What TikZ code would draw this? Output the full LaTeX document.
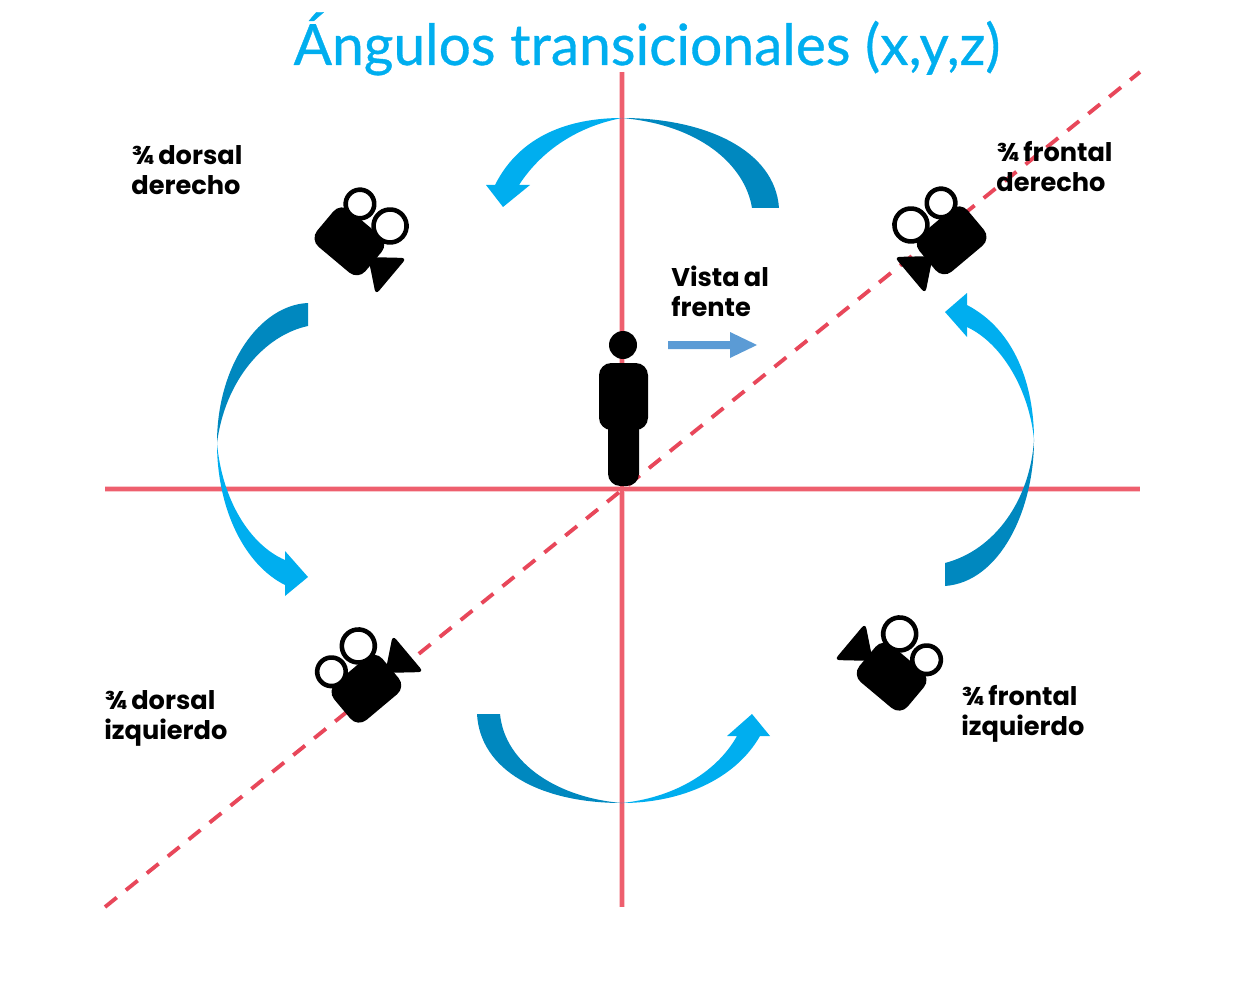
\documentclass[tikz,border=0pt]{standalone}
\usepackage{fontspec}
\setmainfont[WordSpace=0.75]{Poppins}
\newfontfamily\titlefont[FakeBold=0.6]{Lato}
\usetikzlibrary{calc,positioning}
\definecolor{axisred}{HTML}{EE5F6E}
\definecolor{dashred}{HTML}{E8475A}
\definecolor{arcdark}{HTML}{0088BF}
\definecolor{arclight}{HTML}{00AEEF}
\definecolor{viewblue}{HTML}{5B9BD5}
\tikzset{
  axisline/.style={draw=axisred,line width=2pt},
  axisglow/.style={draw=axisred!35,line width=3pt},
  camlabel/.style={anchor=north west,align=left,font=\fontsize{14.6}{17}\selectfont\bfseries,inner sep=0pt},
  pics/camera/.style={code={
    \fill[rounded corners=6.5] (-31,-24) rectangle (32,24);
    \fill[rounded corners=3,line join=round] (25,0) -- (55,-24) -- (55,24) -- cycle;
    \draw[line width=2.6pt,fill=white] (-15.4,-35.4) circle (14.3);
    \draw[line width=2.6pt,fill=white] (21.8,-37.9) circle (16.5);
  }}
}
\begin{document}
\begin{tikzpicture}[x=0.02cm,y=-0.02cm]
\useasboundingbox (0,0) rectangle (1260,983);
% axes
\coordinate (L) at (105,489);
\coordinate (R) at (1140,489);
\coordinate (T) at (622,72);
\coordinate (B) at (622,907);
\coordinate (P) at (105,907);
\coordinate (Q) at (1140,72);
\draw[axisglow] (L) -- (R);
\draw[axisglow] (T) -- (B);
\draw[axisline] (L) -- (R);
\draw[axisline] (T) -- (B);
\draw[dashred,line width=2.2pt,dash pattern=on 8.6pt off 6.7pt] (P) -- (Q);
% top arc
\fill[arcdark] (622,118) .. controls (705,118) and (775,150) .. (779,208) -- (752,208) .. controls (745,165) and (700,125) .. cycle;
\fill[arclight] (622,118) .. controls (570,118) and (520,135) .. (495,185) -- (486,185) -- (503,207) -- (530,185) -- (519,185) .. controls (545,145) and (585,125) .. cycle;
% left arc
\fill[arcdark] (217,443) .. controls (217,365) and (260,305) .. (308,303) -- (308,326) .. controls (265,335) and (225,380) .. cycle;
\fill[arclight] (217,443) .. controls (217,510) and (245,565) .. (285,585) -- (285,596) -- (308,577) -- (285,551) -- (285,560) .. controls (250,545) and (222,500) .. cycle;
% right arc
\fill[arcdark] (1034,440) .. controls (1034,510) and (1000,582) .. (945,586) -- (945,563) .. controls (995,550) and (1030,500) .. cycle;
\fill[arclight] (1034,440) .. controls (1034,385) and (1015,330) .. (967,305) -- (967,293) -- (945,312) -- (967,337) -- (967,327) .. controls (1005,345) and (1030,395) .. cycle;
% bottom arc
\fill[arcdark] (622,803) .. controls (540,803) and (480,770) .. (477,714) -- (500,714) .. controls (505,765) and (560,798) .. cycle;
\fill[arclight] (622,803) .. controls (680,803) and (735,780) .. (760,736) -- (770,736) -- (752,714) -- (727,736) -- (737,736) .. controls (715,775) and (670,798) .. cycle;
% cameras
\pic[rotate=-40] at (349,241) {camera};
\pic[rotate=40,xscale=-1] at (952,240) {camera};
\pic[rotate=40] at (366,689) {camera};
\pic[rotate=-40,xscale=-1] at (892,677) {camera};
% person
\fill (623,345) circle (14);
\fill[rounded corners=7] (599,363) rectangle (648,430);
\fill[rounded corners=7] (608,400) rectangle (639,486);
% view arrow
\fill[viewblue] (668,341) -- (730,341) -- (730,332) -- (757,345) -- (730,358) -- (730,349) -- (668,349) -- cycle;
% labels
\node[anchor=base,inner sep=0pt,text=arclight,font=\fontsize{32.4}{38}\selectfont\titlefont] (title) at (647,65) {Ángulos transicionales (x,y,z)};
\node[camlabel] (dd) at (131,145) {¾ dorsal\\derecho};
\node[camlabel] (fd) at (996,141) {¾ frontal\\derecho};
\node[camlabel] (di) at (104,690) {¾ dorsal\\izquierdo};
\node[camlabel] (fi) at (961,685) {¾ frontal\\izquierdo};
\node[camlabel] (vista) at (671,266) {Vista al\\frente};
\end{tikzpicture}
\end{document}
